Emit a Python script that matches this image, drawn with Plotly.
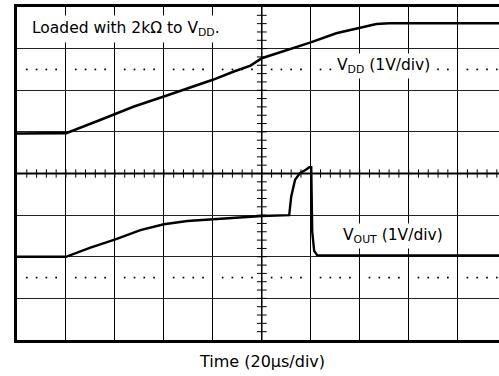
import plotly.graph_objects as go

# Time axis in microseconds (20 us/div), vertical values in screen divisions (1 V/div)
vdd_t = [0, 20.1, 34.2, 47.8, 60, 69.6, 80, 88.6, 95.4, 100, 108.6, 120, 130.4, 140, 146.8, 152.2, 197]
vdd_v = [4.96, 4.97, 5.29, 5.61, 5.85, 6.05, 6.25, 6.45, 6.59, 6.77, 6.93, 7.15, 7.37, 7.49, 7.59, 7.61, 7.61]

vout_t = [0, 20, 30, 40.2, 50.4, 60, 69.6, 80, 85.8, 95.4, 100, 111.2, 112.0, 113.6, 115.6, 118.0, 119.4, 120.2, 120.6, 121.4, 122.6, 125, 197]
vout_v = [2.0, 2.0, 2.22, 2.42, 2.64, 2.78, 2.86, 2.90, 2.93, 2.96, 2.98, 3.0, 3.44, 3.85, 4.01, 4.09, 4.15, 4.15, 2.6, 2.14, 2.04, 2.03, 2.03]

x_max = 196.9
n_xdiv = 10
n_ydiv = 8
us_per_div = 20
dotted_rows = [1.5, 6.5]

FONT = "DejaVu Sans, Arial, sans-serif"
FS = 15.5

fig = go.Figure()

# center crosshair lines
fig.add_trace(go.Scatter(x=[0, x_max], y=[n_ydiv / 2] * 2, mode="lines",
                         line=dict(color="black", width=2), hoverinfo="skip", showlegend=False))
fig.add_trace(go.Scatter(x=[n_xdiv / 2 * us_per_div] * 2, y=[0, n_ydiv], mode="lines",
                         line=dict(color="black", width=1.5), hoverinfo="skip", showlegend=False))

# minor ticks on center lines
tx, ty = [], []
for i in range(1, n_xdiv * 5):
    t = i * us_per_div / 5
    tx += [t, t, None]
    ty += [n_ydiv / 2 - 0.1, n_ydiv / 2 + 0.1, None]
cx = n_xdiv / 2 * us_per_div
for j in range(1, n_ydiv * 5):
    v = j / 5
    tx += [cx - 2.0, cx + 2.0, None]
    ty += [v, v, None]
fig.add_trace(go.Scatter(x=tx, y=ty, mode="lines", line=dict(color="black", width=1),
                         hoverinfo="skip", showlegend=False))

# dotted rows
dx, dy = [], []
for row in dotted_rows:
    for k in range(n_xdiv):
        for s in range(1, 5):
            dx.append(k * us_per_div + s * us_per_div / 5)
            dy.append(row)
fig.add_trace(go.Scatter(x=dx, y=dy, mode="markers",
                         marker=dict(color="black", size=1.7, symbol="square", line=dict(width=0)),
                         hoverinfo="skip", showlegend=False))

# signals
fig.add_trace(go.Scatter(x=vdd_t, y=vdd_v, mode="lines", line=dict(color="black", width=2.6),
                         name="VDD", showlegend=False))
fig.add_trace(go.Scatter(x=vout_t, y=vout_v, mode="lines", line=dict(color="black", width=2.4),
                         name="VOUT", showlegend=False))

fig.update_xaxes(range=[0, x_max], dtick=us_per_div, tick0=0, showgrid=True, gridcolor="black",
                 gridwidth=1.2, showticklabels=False, ticks="", zeroline=False,
                 showline=True, linewidth=2.5, linecolor="black", mirror=True, fixedrange=True)
fig.update_yaxes(range=[0, n_ydiv], dtick=1, tick0=0, showgrid=True, gridcolor="#222",
                 gridwidth=1.2, showticklabels=False, ticks="", zeroline=False,
                 showline=True, linewidth=2.5, linecolor="black", mirror=False, fixedrange=True)

ann_font = dict(family=FONT, size=FS, color="black")
fig.add_annotation(x=4.5, y=7.47, xref="x", yref="y", xanchor="left", yanchor="middle",
                   text="Loaded with 2kΩ to V<sub>DD</sub>.", showarrow=False,
                   bgcolor="white", borderpad=3, font=ann_font)
fig.add_annotation(x=149.7, y=6.58, xref="x", yref="y", xanchor="center", yanchor="middle",
                   text="V<sub>DD</sub> (1V/div)", showarrow=False,
                   bgcolor="white", borderpad=2, font=ann_font)
fig.add_annotation(x=153.5, y=2.5, xref="x", yref="y", xanchor="center", yanchor="middle",
                   text="V<sub>OUT</sub> (1V/div)", showarrow=False,
                   bgcolor="white", borderpad=2, font=ann_font)
fig.add_annotation(x=100, y=-0.065, xref="x", yref="paper", xanchor="center", yanchor="middle",
                   text="Time (20µs/div)", showarrow=False,
                   font=dict(family=FONT, size=16, color="black"))

fig.update_layout(width=499, height=376, margin=dict(l=17, r=0, t=7, b=36),
                  paper_bgcolor="white", plot_bgcolor="white", showlegend=False)

fig.write_html("out.html", config={"displayModeBar": False},
               post_script="document.body.style.margin='0';document.body.style.overflow='hidden';")
